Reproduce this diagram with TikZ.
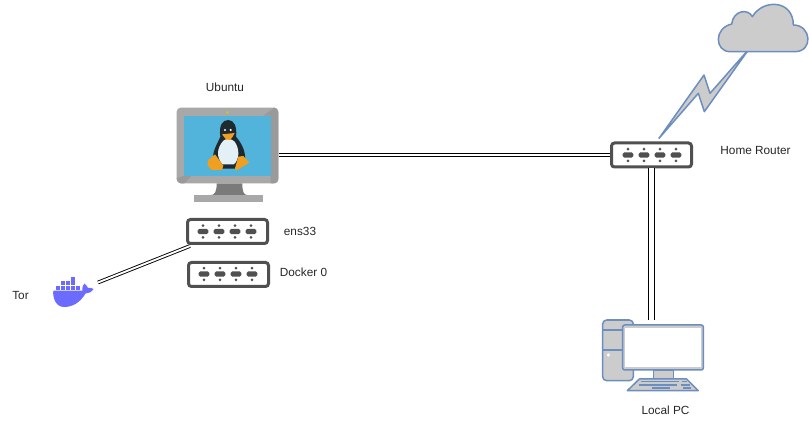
\documentclass[tikz,border=0pt]{standalone}
\usepackage{fontspec}
\setmainfont{Liberation Sans}
\definecolor{gfill}{HTML}{CCCCCC}
\definecolor{bstroke}{HTML}{6C8EBF}
\definecolor{swd}{HTML}{505050}
\definecolor{scr}{HTML}{52B3DB}
\definecolor{mon}{HTML}{A8A8A8}
\definecolor{mond}{HTML}{9A9A9A}
\definecolor{neck}{HTML}{7A7A7A}
\definecolor{peng}{HTML}{1F2A30}
\definecolor{belly}{HTML}{E3F0F6}
\definecolor{orng}{HTML}{F0A020}
\definecolor{whale}{HTML}{6B6BFF}
\tikzset{
  x=1pt,y=-1pt,
  lbl/.style={font=\fontsize{11.8}{13}\selectfont,text=black!85,inner sep=0pt},
  link/.style={draw=black,line width=0.9pt,double=white,double distance=1.9pt},
  widelink/.style={draw=black,line width=0.9pt,double=white,double distance=5.6pt},
  sw/.style={draw=swd,line width=3pt,fill=white,rounded corners=3pt,minimum width=80pt,minimum height=24pt,inner sep=0pt},
  blue/.style={draw=bstroke,line width=1.5pt,fill=gfill,line join=round},
  portc/.style={fill=swd,draw=none},
  ref/.style={inner sep=0pt,minimum width=0pt,minimum height=0pt},
  pics/ports/.style={code={
    \foreach \d in {-24,-8,8,24}{
      \fill[portc,rounded corners=1.5pt] (\d-5.3,-2.6) rectangle (\d+5.3,2.6);
      \fill[portc] (\d,-5.8) circle (1.5pt) (\d,5.8) circle (1.5pt);
    }}}
}
\begin{document}
\begin{tikzpicture}
\useasboundingbox (0,0) rectangle (809,422);
% named parts
\node[sw] (ens) at (227.5,231.5) {};
\node[sw] (dock0) at (228.5,274.5) {};
\node[sw] (rtr) at (651.5,155) {};
\pic at (227,231.5) {ports};
\pic at (228,274) {ports};
\pic at (652,155) {ports};
\node[ref,minimum width=102pt,minimum height=74pt] (ubuntu) at (228,145) {};
\node[ref,minimum width=91pt,minimum height=82pt] (pc) at (653,361) {};
\node[ref,minimum width=44pt,minimum height=32pt] (tor) at (73,291) {};
\node[ref,minimum width=91pt,minimum height=52pt] (cloud) at (762.5,26) {};
% Ubuntu monitor
\begin{scope}[shift={(160,70)},scale=1/3]
  \fill[neck] (170,340) .. controls (170,365) and (165,375) .. (150,376) -- (265,376) .. controls (250,375) and (247,365) .. (247,340) -- cycle;
  \fill[mon] (103,375) rectangle (308,396);
  \fill[mon,rounded corners=4pt] (50,113) rectangle (355,340);
  \fill[mond] (310,137) -- (343,113) .. controls (350,113) and (355,120) .. (355,128) -- (355,325) .. controls (355,335) and (350,340) .. (340,340) -- (332,340) -- (332,137) -- cycle;
  \fill[mond] (73,317) -- (95,317) -- (73,340) -- (62,340) .. controls (55,338) and (51,333) .. (50,325) -- cycle;
  \fill[scr] (73,137) rectangle (332,317);
  \fill[yellow!70!green] (202,127) circle (4);
  % penguin
  \fill[peng] (181,200) .. controls (176,165) and (188,150) .. (205,150) .. controls (222,150) and (232,170) .. (228,200)
     .. controls (245,220) and (258,245) .. (255,272) -- (230,296) -- (180,296) -- (160,268) .. controls (156,245) and (172,222) .. (181,200) -- cycle;
  \fill[belly] (190,212) .. controls (197,205) and (215,205) .. (224,215) .. controls (240,238) and (238,268) .. (222,283) -- (188,283) .. controls (168,262) and (170,235) .. (190,212) -- cycle;
  \fill[white] (195,180) circle (3.5) (212,180) circle (3.5);
  \fill[orng] (186,193) -- (224,189) -- (218,200) .. controls (212,210) and (204,214) .. (198,208) -- cycle;
  \fill[orng] (142,285) -- (145,270) -- (165,253) -- (190,287) -- (186,300) -- (155,300) -- cycle;
  \fill[orng] (225,295) -- (235,260) -- (250,258) -- (268,278) -- (228,302) -- cycle;
\end{scope}
% Cloud and lightning
\begin{scope}[shift={(600,0)},scale=1/3]
  \draw[blue] (177,415) -- (312,225) -- (330,280) -- (447,147) -- (313,335) -- (295,280) -- cycle;
  \draw[blue] (390,155) .. controls (345,155) and (340,85) .. (395,72)
     .. controls (400,30) and (445,25) .. (457,50)
     .. controls (490,-5) and (580,0) .. (580,75)
     .. controls (635,75) and (640,155) .. (585,155) -- cycle;
\end{scope}
% Local PC
\begin{scope}[shift={(590,310)},scale=1/3]
  \draw[blue,rounded corners=4pt] (38,30) rectangle (130,212);
  \draw[blue] (38,60) -- (130,60) (38,120) -- (130,120);
  \fill[white] (55,135) circle (5);
  \draw[blue] (190,180) rectangle (250,207);
  \draw[blue] (148,207) -- (290,207) -- (325,242) -- (112,242) -- cycle;
  \draw[bstroke,line width=1.2pt] (152,214) -- (268,214) (275,214) -- (292,214) (148,225) -- (262,225) (272,225) -- (300,225) (185,234) -- (240,234) (280,234) -- (302,234);
  \draw[blue,rounded corners=2pt] (98,45) rectangle (340,180);
  \fill[white] (105,53) rectangle (333,172);
\end{scope}
% Docker whale
\begin{scope}[shift={(45,270)}]
  \fill[whale] (8.3,20.7) -- (37.5,20.7) .. controls (37,17) and (38,15) .. (39.5,13.5) .. controls (41.5,15) and (42.5,17) .. (43,18) .. controls (45,17.5) and (47,18) .. (48.5,19) .. controls (46.5,22) and (44,23.5) .. (40.5,23.5) .. controls (35,33) and (27,37) .. (19,37) .. controls (11,37) and (7.5,28) .. (8.3,20.7) -- cycle;
  \foreach \cx/\cy in {11/16,16/16,21/16,26/16,31/16,16/11.3,21/11.3,26/11.3,26/6.7}{
    \fill[whale] (\cx,\cy) rectangle ++(4.3,4.2);
  }
\end{scope}
% connectors
\draw[link] ([yshift=-10pt]ubuntu.east) -- (rtr.west);
\draw[widelink] (rtr.south) -- (rtr.south |- pc.north);
\coordinate (torEnd) at (98,282.5);
\coordinate (ensEnd) at (190,246);
\draw[link] (ensEnd) -- (torEnd);
% labels
\node[lbl] (tUbuntu) at (225,87) {Ubuntu};
\node[lbl] (tEns) at (300,231.5) {ens33};
\node[lbl] (tDock) at (303.5,272.5) {Docker 0};
\node[lbl] (tTor) at (20.5,295) {Tor};
\node[lbl] (tRtr) at (755.5,151) {Home Router};
\node[lbl] (tPc) at (665.5,410) {Local PC};
\end{tikzpicture}
\end{document}
